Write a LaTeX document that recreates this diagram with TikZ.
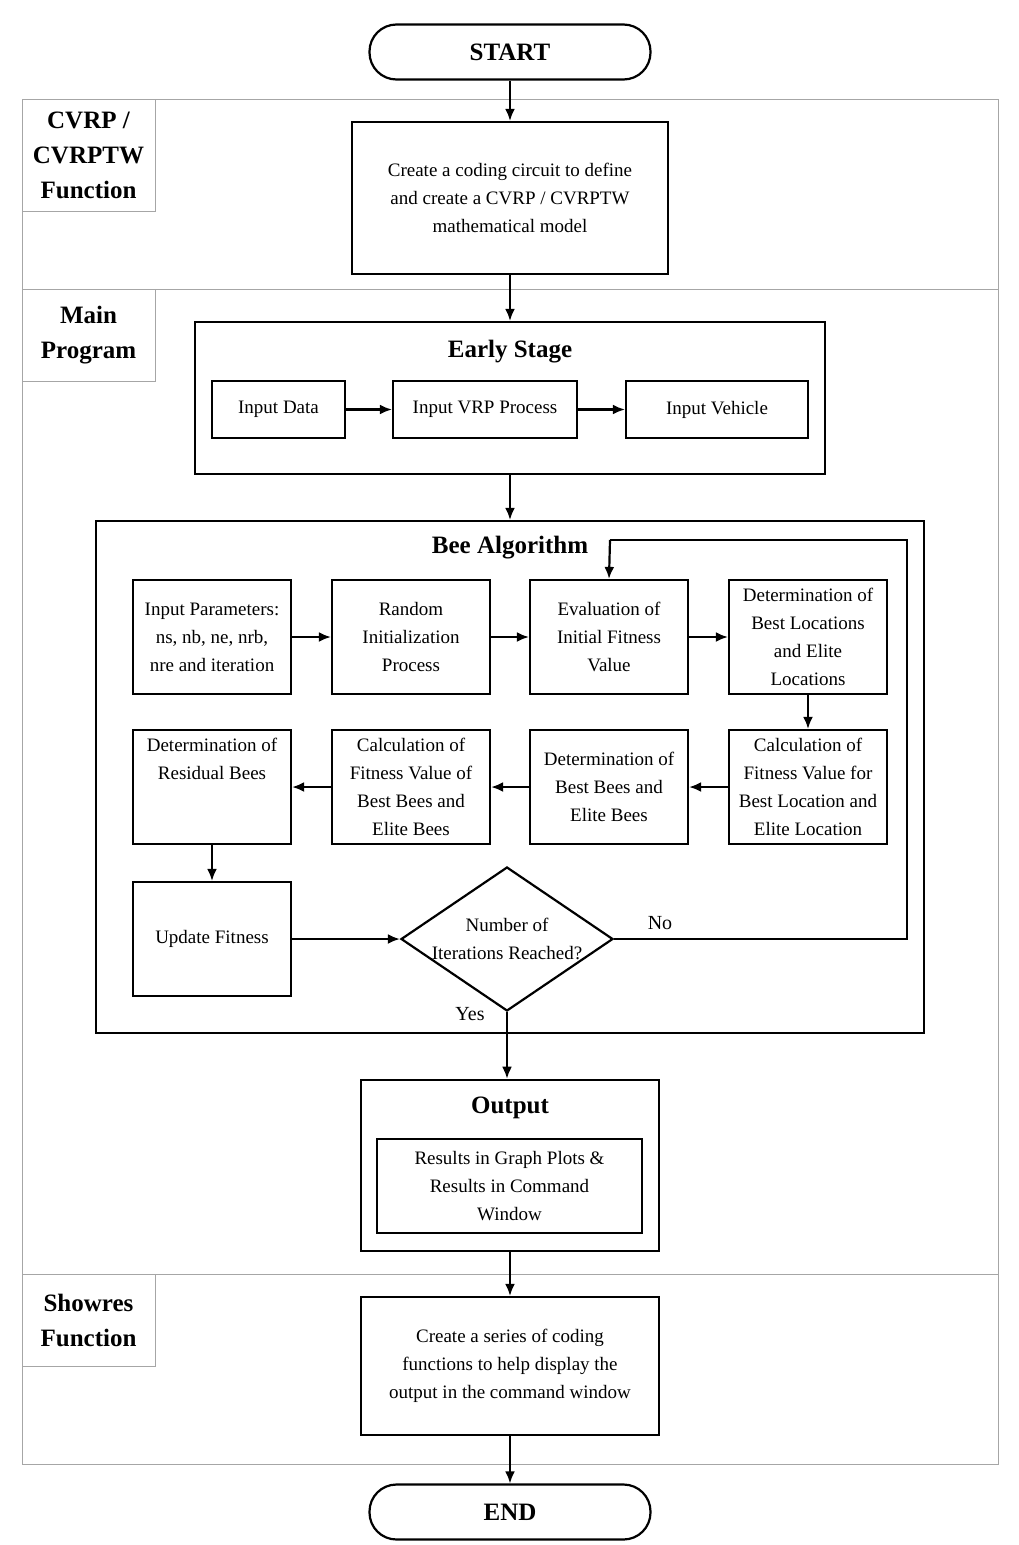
\documentclass[tikz,border=0pt]{standalone}
\usepackage{fontspec}
\setmainfont{Liberation Serif}
\usetikzlibrary{shapes.geometric,arrows.meta}
\begin{document}
\begin{tikzpicture}[x=1pt,y=-1pt,
 box/.style={draw,line width=2.2pt,align=center,inner sep=2pt,font=\fontsize{19}{28}\selectfont},
 lane/.style={draw=gray!70,line width=0.8pt},
 lab/.style={draw=gray!70,line width=0.8pt,align=center,font=\fontsize{25}{35}\selectfont\bfseries},
 term/.style={draw,line width=2.2pt,rounded corners=27pt,font=\fontsize{25}{30}\selectfont\bfseries,minimum width=281pt,minimum height=55pt},
 arr/.style={line width=2.2pt,-{Latex[length=12pt,width=10pt]}},
 title/.style={font=\fontsize{25}{30}\selectfont\bfseries}]
\useasboundingbox (0,0) rectangle (1018,1545);
% lanes
\draw[lane] (22,99) rectangle (998,1464);
\draw[lane] (22,289) -- (998,289);
\draw[lane] (22,1274) -- (998,1274);
\node[lab,minimum width=133pt,minimum height=112pt] (l1) at (88.5,155) {CVRP /\\CVRPTW\\Function};
\node[lab,minimum width=133pt,minimum height=92pt] (l2) at (88.5,335) {Main\\Program};
\node[lab,minimum width=133pt,minimum height=92pt] (l3) at (88.5,1320) {Showres\\Function};
% terminals
\node[term] (start) at (510,52) {START};
\node[term] (end) at (510,1512) {END};
\node[box,minimum width=316pt,minimum height=152pt] (b1) at (510,198) {Create a coding circuit to define\\and create a CVRP / CVRPTW\\mathematical model};
% early stage
\node[box,minimum width=630pt,minimum height=152pt] (early) at (510,398) {};
\node[title] (et) at (510,352) {Early Stage};
\node[box,minimum width=133pt,minimum height=57pt] (e1) at (278.5,409.5) {Input Data};
\node[box,minimum width=184pt,minimum height=57pt] (e2) at (485,409.5) {Input VRP Process};
\node[box,minimum width=182pt,minimum height=57pt] (e3) at (717,409.5) {Input Vehicle};
\draw[arr] (e1) -- (e2);
\draw[arr] (e2) -- (e3);
% bee
\node[box,minimum width=828pt,minimum height=512pt] (bee) at (510,777) {};
\node[title] (bt) at (510,548) {Bee Algorithm};
\tikzset{bb/.style={box,minimum width=158pt,minimum height=114pt}}
\node[bb] (a1) at (212,637) {Input Parameters:\\ns, nb, ne, nrb,\\nre and iteration};
\node[bb] (a2) at (411,637) {Random\\Initialization\\Process};
\node[bb] (a3) at (609,637) {Evaluation of\\Initial Fitness\\Value};
\node[bb] (a4) at (808,637) {Determination of\\Best Locations\\and Elite\\Locations};
\node[bb] (c4) at (808,787) {Calculation of\\Fitness Value for\\Best Location and\\Elite Location};
\node[bb] (c3) at (609,787) {Determination of\\Best Bees and\\Elite Bees};
\node[bb] (c2) at (411,787) {Calculation of\\Fitness Value of\\Best Bees and\\Elite Bees};
\node[bb] (c1) at (212,787) {Determination of\\Residual Bees\\[28pt]};
\node[bb] (u) at (212,939) {Update Fitness};
\node[draw,line width=2.2pt,diamond,aspect=1.47,minimum width=212pt,minimum height=144pt,inner sep=0pt,align=center,font=\fontsize{19}{28}\selectfont] (d) at (507,939) {};
\node[align=center,font=\fontsize{19}{28}\selectfont] (dt) at (507,939) {Number of\\Iterations Reached?};
\draw[arr] (a1) -- (a2);
\draw[arr] (a2) -- (a3);
\draw[arr] (a3) -- (a4);
\draw[arr] (a4) -- (c4);
\draw[arr] (c4) -- (c3);
\draw[arr] (c3) -- (c2);
\draw[arr] (c2) -- (c1);
\draw[arr] (c1) -- (u);
\draw[arr] (u) -- (d);
\coordinate (n1) at (907,939);
\coordinate (n2) at (907,540);
\coordinate (n3) at (610,540);
\draw[line width=2.2pt] (d.east) -- (n1) -- (n2) -- (n3);
\draw[arr] (n3) -- (a3.north);
\node[font=\fontsize{20}{24}\selectfont] (no) at (660,923) {No};
\node[font=\fontsize{20}{24}\selectfont] (yes) at (470,1014) {Yes};
% output
\node[box,minimum width=298pt,minimum height=171pt,line width=2.6pt] (out) at (510,1165.5) {};
\node[title] (ot) at (510,1108) {Output};
\node[box,minimum width=265pt,minimum height=94pt,line width=2pt] (oi) at (509.5,1186) {Results in Graph Plots \&\\Results in Command\\Window};
\node[box,minimum width=298pt,minimum height=138pt] (sh) at (510,1366) {Create a series of coding\\functions to help display the\\output in the command window};
\draw[arr] (start) -- (b1);
\draw[arr] (b1) -- (early);
\draw[arr] (early) -- (bee);
\draw[arr] (d.south) -- (out.north -| d.south);
\draw[arr] (out) -- (sh);
\draw[arr] (sh) -- (end);
\end{tikzpicture}
\end{document}
